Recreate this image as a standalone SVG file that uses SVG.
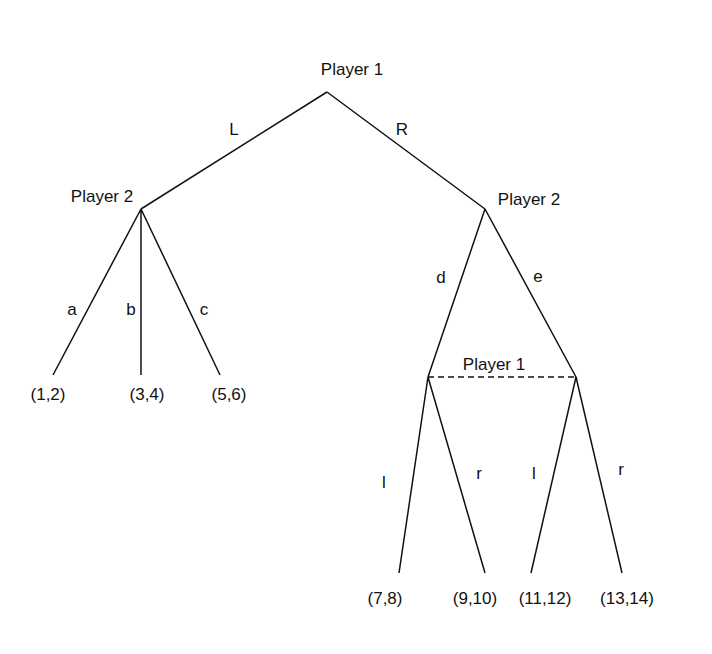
<svg xmlns="http://www.w3.org/2000/svg" width="712" height="654" viewBox="0 0 712 654">
<style>
text{font-family:"Liberation Sans",Arial,sans-serif;font-size:17px;fill:#111;text-anchor:middle}
.e{stroke:#111;stroke-width:1.5;fill:none}
.d{stroke-dasharray:6,4}
</style>
<rect width="712" height="654" fill="#fff"/>
<g id="connectors">
<path class="e" d="M327,92L141,209M327,92L485,209"/>
<path class="e" d="M141,209L53,375M141,209L141,375M141,209L220,375"/>
<path class="e" d="M485,209L428,377M485,209L576,377"/>
<path class="e" d="M428,377L399,573M428,377L485,573M576,377L531,573M576,377L622,573"/>
<path class="e d" d="M428,377L576,377"/>
<text x="234" y="135">L</text><text x="402" y="135">R</text>
<text x="72" y="315">a</text><text x="131" y="315">b</text><text x="204" y="315">c</text>
<text x="441" y="283">d</text><text x="538" y="282">e</text>
<text x="384" y="488">l</text><text x="479" y="479">r</text><text x="534" y="479">l</text><text x="621" y="475">r</text>
</g>
<g id="n-root"><text x="352" y="75">Player 1</text></g>
<g id="n-p2l"><text x="102" y="202">Player 2</text></g>
<g id="n-p2r"><text x="529" y="205">Player 2</text></g>
<g id="n-p1info"><text x="494" y="370">Player 1</text></g>
<g id="leaf1"><text x="48" y="400">(1,2)</text></g>
<g id="leaf2"><text x="147" y="400">(3,4)</text></g>
<g id="leaf3"><text x="229" y="400">(5,6)</text></g>
<g id="leaf4"><text x="385" y="604">(7,8)</text></g>
<g id="leaf5"><text x="475" y="604">(9,10)</text></g>
<g id="leaf6"><text x="545" y="604">(11,12)</text></g>
<g id="leaf7"><text x="627" y="604">(13,14)</text></g>
</svg>
